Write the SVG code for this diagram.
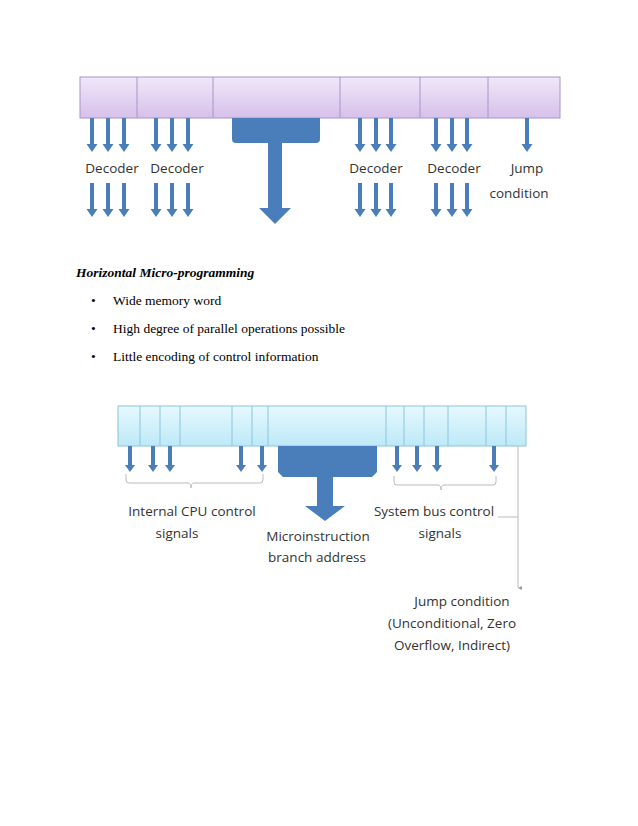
<svg xmlns="http://www.w3.org/2000/svg" width="638" height="826" viewBox="0 0 638 826">
<defs>
<linearGradient id="gp" x1="0" y1="0" x2="0" y2="1"><stop offset="0" stop-color="#f1e8fa"/><stop offset="1" stop-color="#d6c0ea"/></linearGradient>
<linearGradient id="gc" x1="0" y1="0" x2="0" y2="1"><stop offset="0" stop-color="#e6f8fe"/><stop offset="1" stop-color="#bde9f8"/></linearGradient>
<marker id="ah" viewBox="0 0 10 10" refX="5" refY="10" markerWidth="4" markerHeight="4" markerUnits="strokeWidth" orient="auto-start-reverse"><path d="M0,0 L5,10 L10,0 Z" fill="#999"/></marker>
<g id="a1"><rect x="-2" y="0" width="4" height="27" fill="#4a7ebb"/><path d="M-5.5,26 L5.5,26 L0,34 Z" fill="#4a7ebb"/></g>
<g id="a2"><rect x="-2" y="0" width="4" height="20" fill="#4a7ebb"/><path d="M-5,19 L5,19 L0,26 Z" fill="#4a7ebb"/></g>
</defs>
<style>
.t{font-family:"Open Sans","Noto Sans",sans-serif;font-size:13.5px;fill:#333;text-anchor:middle}
.b{font-family:"Liberation Serif",serif;font-size:13.5px;fill:#000}
.dv{stroke:#a894c8;stroke-width:1}
.dc{stroke:#8ec4d8;stroke-width:1}
.br{fill:none;stroke:#bbb;stroke-width:1}
</style>
<rect width="638" height="826" fill="#fff"/>
<g id="word1">
<rect x="80" y="77" width="480" height="41" fill="url(#gp)" stroke="#a894c8"/>
<line class="dv" x1="137" y1="77" x2="137" y2="118"/><line class="dv" x1="213" y1="77" x2="213" y2="118"/><line class="dv" x1="340" y1="77" x2="340" y2="118"/><line class="dv" x1="420" y1="77" x2="420" y2="118"/><line class="dv" x1="488" y1="77" x2="488" y2="118"/>
</g>
<g id="arrows1">
<use href="#a1" x="92" y="118"/><use href="#a1" x="108" y="118"/><use href="#a1" x="124" y="118"/>
<use href="#a1" x="156" y="118"/><use href="#a1" x="172" y="118"/><use href="#a1" x="188" y="118"/>
<use href="#a1" x="360" y="118"/><use href="#a1" x="376" y="118"/><use href="#a1" x="391" y="118"/>
<use href="#a1" x="436" y="118"/><use href="#a1" x="452" y="118"/><use href="#a1" x="467" y="118"/>
<use href="#a1" x="527" y="118"/>
<use href="#a1" x="92" y="183"/><use href="#a1" x="108" y="183"/><use href="#a1" x="124" y="183"/>
<use href="#a1" x="156" y="183"/><use href="#a1" x="172" y="183"/><use href="#a1" x="188" y="183"/>
<use href="#a1" x="360" y="183"/><use href="#a1" x="376" y="183"/><use href="#a1" x="391" y="183"/>
<use href="#a1" x="436" y="183"/><use href="#a1" x="452" y="183"/><use href="#a1" x="467" y="183"/>
<path d="M232,118 H320 V139 Q320,143 316,143 H282 V208 H291 L275,224 L259,208 H268 V143 H236 Q232,143 232,139 Z" fill="#4a7ebb"/>
</g>
<g id="labels1">
<text class="t" x="112" y="173">Decoder</text><text class="t" x="177" y="173">Decoder</text>
<text class="t" x="376" y="173">Decoder</text><text class="t" x="454" y="173">Decoder</text>
<text class="t" x="527" y="173">Jump</text><text class="t" x="519" y="198">condition</text>
</g>
<g id="text">
<text class="b" x="76" y="277" font-weight="bold" font-style="italic">Horizontal Micro-programming</text>
<text class="b" x="91" y="305">•</text><text class="b" x="113" y="305">Wide memory word</text>
<text class="b" x="91" y="333">•</text><text class="b" x="113" y="333">High degree of parallel operations possible</text>
<text class="b" x="91" y="361">•</text><text class="b" x="113" y="361">Little encoding of control information</text>
</g>
<g id="word2">
<rect x="118" y="406" width="408" height="40" fill="url(#gc)" stroke="#8ec4d8"/>
<line class="dc" x1="140" y1="406" x2="140" y2="446"/><line class="dc" x1="160" y1="406" x2="160" y2="446"/><line class="dc" x1="180" y1="406" x2="180" y2="446"/><line class="dc" x1="232" y1="406" x2="232" y2="446"/><line class="dc" x1="252" y1="406" x2="252" y2="446"/><line class="dc" x1="268" y1="406" x2="268" y2="446"/><line class="dc" x1="386" y1="406" x2="386" y2="446"/><line class="dc" x1="404" y1="406" x2="404" y2="446"/><line class="dc" x1="424" y1="406" x2="424" y2="446"/><line class="dc" x1="448" y1="406" x2="448" y2="446"/><line class="dc" x1="486" y1="406" x2="486" y2="446"/><line class="dc" x1="506" y1="406" x2="506" y2="446"/>
</g>
<g id="connectors">
<use href="#a2" x="130" y="446"/><use href="#a2" x="153" y="446"/><use href="#a2" x="170" y="446"/><use href="#a2" x="241" y="446"/><use href="#a2" x="262" y="446"/>
<use href="#a2" x="397" y="446"/><use href="#a2" x="417" y="446"/><use href="#a2" x="437" y="446"/><use href="#a2" x="494" y="446"/>
<path d="M278,446 H377 V472 L372,477 H333 V506 H345 L325,521 L305,506 H317 V477 H283 L278,472 Z" fill="#4a7ebb"/>
<path class="br" d="M126,474 V480 Q126,483 129,483 H188 Q191,483 191,488 Q191,483 194,483 H260 Q263,483 263,480 V474"/>
<path class="br" d="M394,476 V482 Q394,485 397,485 H438 Q441,485 441,490 Q441,485 444,485 H493 Q496,485 496,482 V476"/>
<path class="br" d="M518,446 V517 H498"/>
<path class="br" d="M518,517 V588" marker-end="url(#ah)"/>
</g>
<g id="labels2">
<text class="t" x="192" y="516">Internal CPU control</text><text class="t" x="177" y="538">signals</text>
<text class="t" x="318" y="541">Microinstruction</text><text class="t" x="317" y="562">branch address</text>
<text class="t" x="434" y="516">System bus control</text><text class="t" x="440" y="538">signals</text>
<text class="t" x="462" y="606">Jump condition</text><text class="t" x="452" y="628">(Unconditional, Zero</text><text class="t" x="452" y="650">Overflow, Indirect)</text>
</g>
</svg>
